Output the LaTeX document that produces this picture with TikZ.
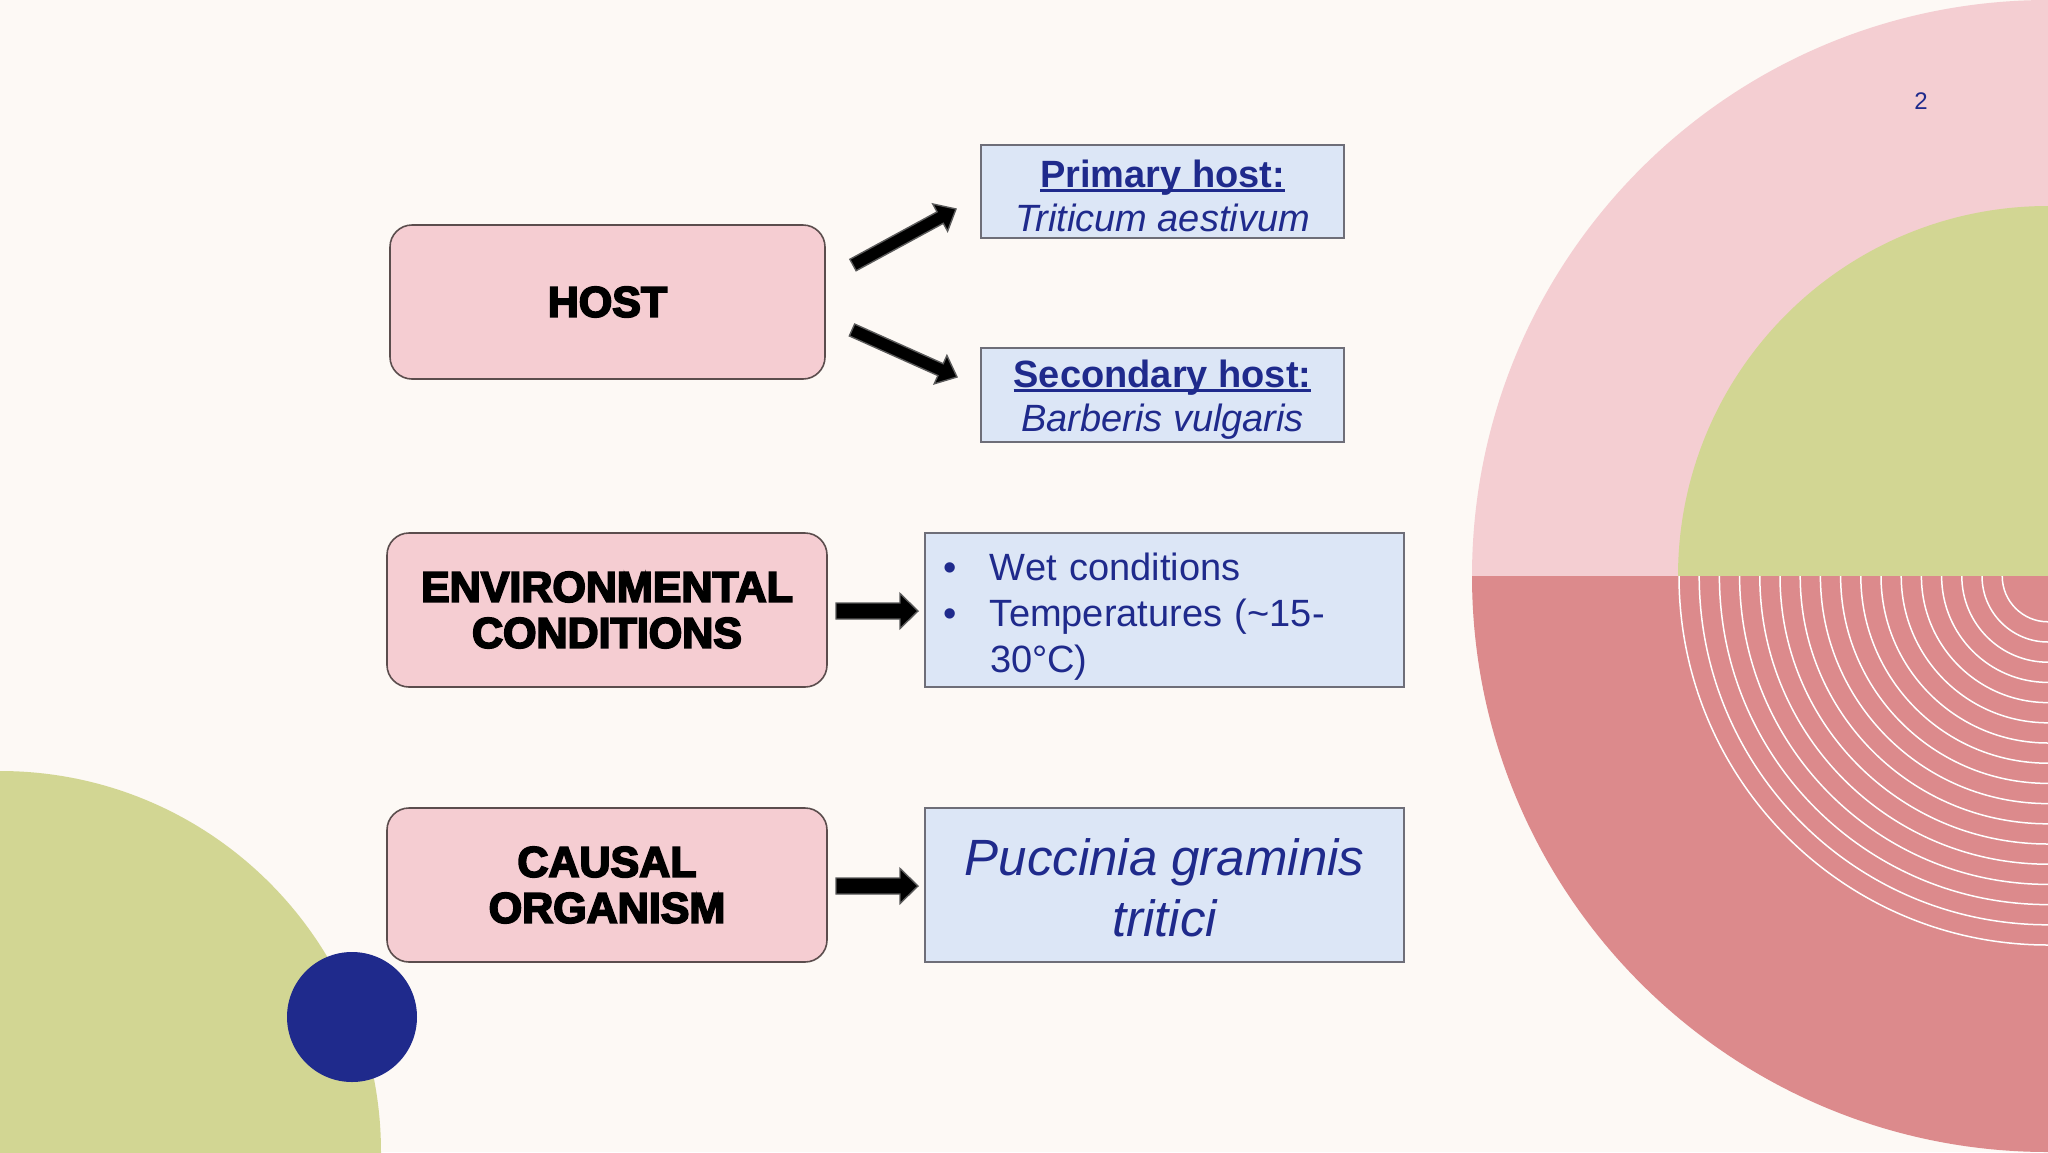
\documentclass[tikz,border=0pt]{standalone}
\usepackage{fontspec}
\setmainfont{Liberation Sans}
\newfontfamily\heavy[FakeBold=4.2]{Liberation Sans Bold}
\usetikzlibrary{calc}
\definecolor{bg}{HTML}{FDF9F5}
\definecolor{pinkbox}{HTML}{F5CDD2}
\definecolor{pinkborder}{HTML}{5B4D4D}
\definecolor{bluebox}{HTML}{DCE6F6}
\definecolor{blueborder}{HTML}{6E6E78}
\definecolor{navy}{HTML}{1F2A8C}
\definecolor{dgreen}{HTML}{D2D693}
\definecolor{lpink}{HTML}{F4CED2}
\definecolor{dpink}{HTML}{DC8A8C}
\definecolor{arrowgray}{HTML}{5A5A5A}
\newcommand\myul[1]{\setbox0\hbox{#1}\rlap{\rule[-4.5pt]{\wd0}{2.6pt}}\box0}
\newcommand\blockarrow[5]{%
  \coordinate (hb) at ($(#2)!#5pt!(#1)$);
  \filldraw[arrowstyle] ($(#1)!#3pt!90:(#2)$) -- ($(hb)!#3pt!90:(#2)$) -- ($(hb)!#4pt!90:(#2)$) -- (#2) -- ($(hb)!#4pt!-90:(#2)$) -- ($(hb)!#3pt!-90:(#2)$) -- ($(#1)!#3pt!-90:(#2)$) -- cycle;}
\begin{document}
\begin{tikzpicture}[x=1pt,y=-1pt,
  pinkstyle/.style={draw=pinkborder, fill=pinkbox, line width=1.6, rounded corners=22,
    align=center, font=\heavy\fontsize{43}{46}\selectfont, text=black},
  bluestyle/.style={draw=blueborder, fill=bluebox, line width=1.6, text=navy},
  arrowstyle/.style={fill=black, draw=arrowgray, line width=1.4, line join=miter}]
\fill[bg] (0,0) rectangle (2048,1152);
\useasboundingbox (0,0) rectangle (2048,1152);
% right decoration
\begin{scope}
  \clip (0,0) rectangle (2048,576);
  \fill[lpink] (2048,576) circle[radius=576];
  \fill[dgreen] (2048,576) circle[radius=370];
\end{scope}
\begin{scope}
  \clip (0,576) rectangle (2048,1152);
  \fill[dpink] (2048,576) circle[radius=576];
  \foreach \i in {0,...,16} \draw[white, line width=1.5] (2048,576) circle[radius=369-20.2*\i];
\end{scope}
% bottom-left decoration
\fill[dgreen] (0,1152) circle[radius=381];
\fill[navy] (352,1017) circle[radius=65];
% page number
\node[text=navy, font=\fontsize{24}{24}\selectfont] (pnum) at (1921,101) {2};
% left boxes
\node[pinkstyle, minimum width=435, minimum height=154] (host) at (607.5,302) {HOST};
\node[pinkstyle, minimum width=440, minimum height=154] (env) at (607,610) {ENVIRONMENTAL\\CONDITIONS};
\node[pinkstyle, minimum width=440, minimum height=154] (causal) at (607,885) {CAUSAL\\ORGANISM};
% right boxes
\node[bluestyle, minimum width=363, minimum height=93, align=center, font=\fontsize{38}{44}\selectfont] (prim) at (1162.5,191.5)
  {\rule{0pt}{36pt}\myul{\bfseries Primary host:}\\\itshape Triticum aestivum};
\node[bluestyle, minimum width=363, minimum height=92, align=center, font=\fontsize{38}{44}\selectfont] (sec) at (1162.5,395)
  {\rule{0pt}{36pt}\myul{\bfseries Secondary host:}\\\itshape Barberis vulgaris};
\node[bluestyle, minimum width=479, minimum height=154, text width=443, inner xsep=18, align=left, font=\fontsize{38}{46}\selectfont] (cond) at (1164.5,610)
  {\rule{0pt}{40pt}\makebox[47pt][l]{•}Wet conditions\\\makebox[47pt][l]{•}Temperatures (\textasciitilde15-\\\hspace*{47pt}30°C)};
\node[bluestyle, minimum width=479, minimum height=154, align=center, font=\fontsize{51}{61}\selectfont\itshape] (org) at (1164.5,885)
  {\rule{0pt}{43pt}Puccinia graminis\\tritici};
% arrows
\coordinate (a1s) at (853,265);
\coordinate (a1e) at (956,209);
\coordinate (a2s) at (852,330);
\coordinate (a2e) at (957,377);
\coordinate (a3s) at (836,611);
\coordinate (a3e) at (918,611);
\coordinate (a4s) at (836,886);
\coordinate (a4e) at (918,886);
\blockarrow{a1s}{a1e}{6.5}{15.5}{18}
\blockarrow{a2s}{a2e}{6.5}{15.5}{18}
\blockarrow{a3s}{a3e}{8}{17.5}{18}
\blockarrow{a4s}{a4e}{8}{17.5}{18}
\end{tikzpicture}
\end{document}
